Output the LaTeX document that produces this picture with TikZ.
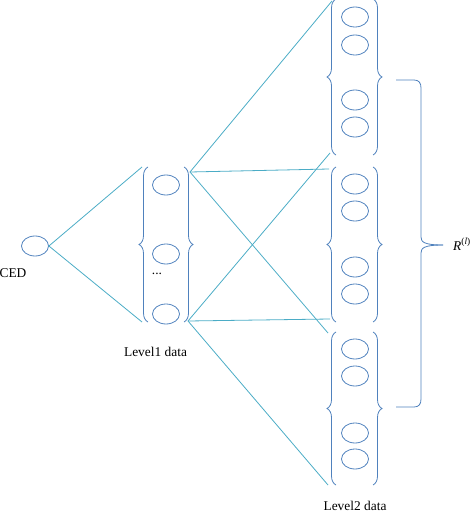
\documentclass[tikz,border=0pt]{standalone}
\usepackage{fontspec}
\setmainfont{Liberation Serif}
\usetikzlibrary{decorations.pathreplacing,shapes.geometric}
\definecolor{bracecol}{HTML}{4F81BD}
\definecolor{linecol}{HTML}{4BACC6}
\begin{document}
\begin{tikzpicture}[x=1pt,y=-1pt,
  unit/.style={draw=bracecol,line width=0.8pt,ellipse,minimum width=27pt,minimum height=20pt,inner sep=0pt},
  grpbrace/.style={draw=bracecol,line width=0.8pt,decorate,decoration={brace,amplitude=9pt}},
  conn/.style={draw=linecol,line width=0.8pt},
  lbl/.style={font=\fontsize{13.4}{15}\selectfont,inner sep=0pt}]
\useasboundingbox (0,0) rectangle (474,513);
% CED
\node[unit] (ced) at (35,246) {};
\node[lbl,anchor=base] (cedt) at (13,277) {CED};
% Level1
\node[unit] (a1) at (166,185) {};
\node[unit] (a2) at (166,254) {};
\node[unit] (a3) at (166,314) {};
\node[lbl] (dots) at (157,274) {...};
\node[lbl,anchor=base] (l1t) at (155.5,356) {Level1 data};
\coordinate (L1tl) at (142,167);
\coordinate (L1bl) at (142,322);
\coordinate (L1tr) at (190,172);
\coordinate (L1br) at (188,321);
\draw[grpbrace] (148,322) -- (148,167);
\draw[grpbrace] (184,167) -- (184,322);
% Level2 groups
\foreach \t/\b/\n in {-1/155/1,167/322/2,332/485/3}{
  \draw[grpbrace] (336,\b) -- (336,\t);
  \draw[grpbrace] (373,\t) -- (373,\b);
}
\foreach \y/\n in {17/b1,45/b2,100/b3,127/b4,184/b5,211/b6,267/b7,294/b8,349/b9,376/b10,433/b11,459/b12}{
  \node[unit] (\n) at (355,\y) {};
}
\coordinate (G1t) at (332,1);
\coordinate (G1b) at (330,153);
\coordinate (G2t) at (329,169);
\coordinate (G2b) at (330,319);
\coordinate (G3t) at (328,333);
\coordinate (G3b) at (328,485);
\node[lbl,anchor=base] (l2t) at (355,510) {Level2 data};
% connectors
\draw[conn] (ced.east) -- (L1tl);
\draw[conn] (ced.east) -- (L1bl);
\draw[conn] (L1tr) -- (G1t);
\draw[conn] (L1tr) -- (G2t);
\draw[conn] (L1tr) -- (G3t);
\draw[conn] (L1br) -- (G1b);
\draw[conn] (L1br) -- (G2b);
\draw[conn] (L1br) -- (G3b);
% big brace
\coordinate (bigtip) at (443,245);
\draw[draw=bracecol,line width=0.8pt] (396,80) -- (414,80) .. controls (419,80) and (421,83) .. (421,88) -- (421,237) .. controls (421,242) and (424,245) .. (bigtip);
\draw[draw=bracecol,line width=0.8pt] (bigtip) .. controls (424,245) and (421,248) .. (421,253) -- (421,399) .. controls (421,404) and (419,407) .. (414,407) -- (396,407);
\node[lbl,anchor=base west] (rl) at (453,250) {\textit{R}\textsuperscript{(\textit{l})}};
\end{tikzpicture}
\end{document}
